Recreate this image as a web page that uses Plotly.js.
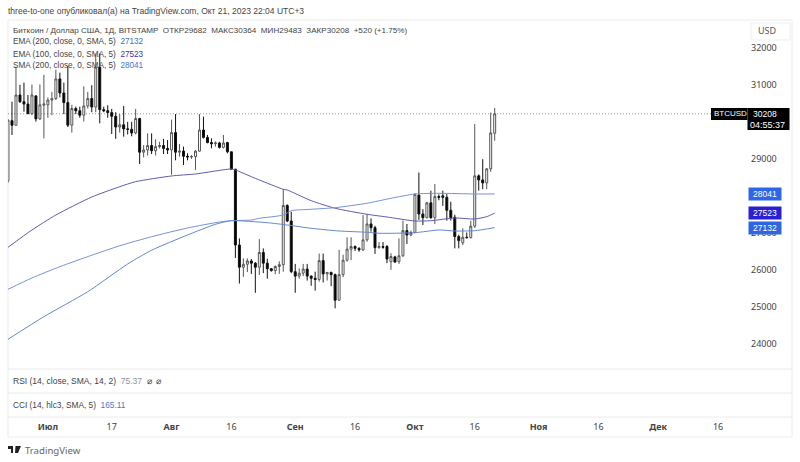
<!DOCTYPE html>
<html><head><meta charset="utf-8">
<script src="https://cdn.plot.ly/plotly-3.0.1.min.js"></script>
<style>html,body{margin:0;padding:0;background:#fff}#c{width:800px;height:462px}</style>
</head><body><div id="c"></div>
<script>
const days=["06-21","06-22","06-23","06-24","06-25","06-26","06-27","06-28","06-29","06-30",
"07-01","07-02","07-03","07-04","07-05","07-06","07-07","07-08","07-09","07-10","07-11","07-12","07-13","07-14","07-15","07-16","07-17","07-18","07-19","07-20","07-21","07-22","07-23","07-24","07-25","07-26","07-27","07-28","07-29","07-30","07-31",
"08-01","08-02","08-03","08-04","08-05","08-06","08-07","08-08","08-09","08-10","08-11","08-12","08-13","08-14","08-15","08-16","08-17","08-18","08-19","08-20","08-21","08-22","08-23","08-24","08-25","08-26","08-27","08-28","08-29","08-30","08-31",
"09-01","09-02","09-03","09-04","09-05","09-06","09-07","09-08","09-09","09-10","09-11","09-12","09-13","09-14","09-15","09-16","09-17","09-18","09-19","09-20","09-21","09-22","09-23","09-24","09-25","09-26","09-27","09-28","09-29","09-30",
"10-01","10-02","10-03","10-04","10-05","10-06","10-07","10-08","10-09","10-10","10-11","10-12","10-13","10-14","10-15","10-16","10-17","10-18","10-19","10-20","10-21"];
const opens=[28400,30022,29897,30716,30535,30470,30210,30690,30070,30440,
30450,30580,30620,31150,30770,30510,29900,30350,30290,30170,30420,30620,30390,31470,30320,30290,30240,30140,29850,29910,29800,29790,29690,30080,29170,29230,29350,29210,29320,29350,29270,
29230,29700,29170,29200,29060,29040,29050,29200,29770,29570,29430,29400,29420,29300,29430,29180,28710,26660,26060,26140,26230,26170,26060,26460,26170,26020,25970,26080,26130,27730,27310,
25940,25820,25900,26010,25820,25760,25730,26240,25880,25920,25860,25170,25860,26250,26550,26620,26570,26530,26800,27230,27130,26590,26620,26620,26210,26340,26210,26370,27050,26930,
27000,28010,27500,27400,27800,27400,27970,27990,27950,27600,27410,26890,26720,26870,26860,27170,28530,28420,28340,28720,29682];
const highs=[30050,30535,31480,30990,31050,30716,31000,30716,31000,31260,
30650,30800,31400,31320,31050,31500,30450,30400,30400,30950,30800,30980,31840,31840,30400,30440,30340,30250,30200,30420,29990,29990,30340,30100,29360,29680,29680,29520,29450,29530,29500,
30050,30200,29390,29320,29140,29090,29230,30200,30130,29635,29545,29460,29450,29635,29450,29185,28720,26840,26300,26300,26280,26200,26820,26570,26290,26040,26110,26220,28170,27760,27560,
26150,26030,26150,26150,25840,25940,26430,26430,25930,25940,25890,26530,26400,26870,26870,26650,26600,27470,27500,27380,27180,26740,26740,26660,26440,26370,26840,27320,27230,27050,
28060,28620,27630,27830,28130,28310,28030,28130,28040,27830,27480,26940,27110,27000,27320,29930,28570,28980,28740,30240,30364];
const lows=[28340,29635,29897,30500,30265,30230,30170,29995,30040,29545,
30100,30170,30580,30650,30200,29850,29700,30200,30100,30000,30350,30250,30250,29950,30250,30100,29660,29530,29700,29590,29650,29600,29650,28850,29030,29080,29120,29080,29270,29120,29120,
28560,28950,29050,28824,28950,28990,28690,29180,29540,29410,29275,29320,29270,29270,29140,28690,26310,25620,25800,25930,25880,25370,25850,25900,25750,25940,25870,25880,25940,27280,25900,
25370,25750,25820,25700,25560,25430,25670,25650,25700,25550,24950,25150,25790,26210,26250,26500,26480,26500,26750,27020,26420,26560,26560,26170,25990,26180,26150,26340,26690,26900,
26980,27340,27200,27380,27370,27230,27870,27720,27320,27320,26570,26570,26660,26840,26840,27120,28130,28170,28170,28640,29483];
const closes=[30040,29897,30716,30535,30470,30210,30716,30070,30450,30470,
30580,30620,31150,30770,30510,29900,30350,30290,30170,30420,30620,30390,31470,30320,30290,30240,30140,29850,29910,29800,29790,29690,30080,29170,29230,29350,29210,29320,29350,29270,29230,
29700,29170,29200,29060,29040,29050,29200,29770,29570,29430,29400,29420,29300,29420,29180,28710,26660,26060,26140,26230,26170,26060,26460,26170,26020,25970,26080,26130,27730,27310,25940,
25820,25900,26010,25820,25760,25730,26240,25880,25920,25860,25170,25860,26250,26550,26620,26570,26530,26800,27230,27130,26590,26620,26600,26280,26350,26200,26370,27050,26930,27000,
28030,27500,27400,27800,27400,27970,27950,27950,27600,27400,26890,26780,26870,26860,27170,28530,28420,28340,28720,29690,30208];

const ema100Days=["06-21","06-27","07-03","07-12","07-19","07-23","08-01","08-07","08-16","08-17","08-21","08-23","08-29","08-30","09-05","09-11","09-19","09-24","10-01","10-05","10-11","10-16","10-19","10-21"];
const ema100=[26599,27067,27472,27959,28237,28373,28527,28581,28716,28689,28508,28419,28167,28148,27859,27654,27491,27418,27310,27318,27391,27364,27427,27523];
const sma200Days=["06-21","06-27","07-04","07-12","07-19","07-27","08-05","08-13","08-16","08-21","08-23","08-29","08-31","09-05","09-11","09-19","09-25","10-01","10-07","10-16","10-21"];
const sma200=[25464,25770,26075,26385,26640,26886,27121,27283,27318,27337,27383,27472,27589,27627,27670,27789,27924,28040,28059,28040,28041];
const ema200Days=["06-21","06-30","07-11","07-21","07-27","08-05","08-12","08-16","08-25","08-30","09-05","09-12","09-19","09-22","10-01","10-07","10-11","10-16","10-21"];
const ema200=[24113,24724,25399,26148,26520,26932,27221,27318,27264,27202,27113,27040,27005,26978,26994,27067,27040,27048,27132];

const priceTicks=[24000,25000,26000,27000,29000,31000,32000];
const timeTickDates=["07-01","07-17","08-01","08-16","09-01","09-16","10-01","10-16","11-01","11-16","12-01","12-16"];
const timeTickLabels=["<b>Июл</b>","17","<b>Авг</b>","16","<b>Сен</b>","16","<b>Окт</b>","16","<b>Ноя</b>","16","<b>Дек</b>","16"];
const lastPrice=30208, lastSma200=28041, lastEma100=27523, lastEma200=27132;

const FONT='"Noto Sans", sans-serif';
const NARROW='"Liberation Sans", sans-serif';
const d=a=>a.map(s=>"2023-"+s);
const L=8,R=750,T=20,B=417;
const px=x=>(x-L)/(R-L), py=y=>(B-y)/(B-T);
const ann=(x,y,text,o)=>Object.assign({xref:'paper',yref:'paper',x:px(x),y:py(y),text,showarrow:false,xanchor:'left',yanchor:'middle',align:'left',borderpad:0,font:{family:NARROW,size:8.5,color:'#444'}},o||{});
const line=(x0,y0,x1,y1,c)=>({type:'line',xref:'paper',yref:'paper',x0:px(x0),y0:py(y0),x1:px(x1),y1:py(y1),line:{color:c||'#ececec',width:1},layer:'below'});
const tag=(x,w,val,bg)=>({xref:'paper',yref:'y',x:px(x),y:val,text:String(val),showarrow:false,xanchor:'left',yanchor:'middle',width:w,height:12,bgcolor:bg,borderpad:0,align:'center',font:{family:NARROW,size:8.5,color:'#fff'}});
const legendFont={family:NARROW,size:8.2,color:'#444'};

const traces=[
 {type:'candlestick',x:d(days),open:opens,high:highs,low:lows,close:closes,
  increasing:{line:{color:'#555',width:1},fillcolor:'#ffffff'},
  decreasing:{line:{color:'#111',width:1},fillcolor:'#000000'},whiskerwidth:0,hoverinfo:'skip',showlegend:false},
 {type:'scatter',mode:'lines',x:d(ema100Days),y:ema100,line:{color:'#5c5cb0',width:1,shape:'spline',smoothing:0.6},hoverinfo:'skip',showlegend:false},
 {type:'scatter',mode:'lines',x:d(sma200Days),y:sma200,line:{color:'#7493d4',width:1,shape:'spline',smoothing:0.6},hoverinfo:'skip',showlegend:false},
 {type:'scatter',mode:'lines',x:d(ema200Days),y:ema200,line:{color:'#6487cc',width:1,shape:'spline',smoothing:0.6},hoverinfo:'skip',showlegend:false}
];
const layout={
 width:800,height:462,margin:{l:L,r:800-R,t:T,b:462-B,pad:0},paper_bgcolor:'#fff',plot_bgcolor:'#fff',showlegend:false,
 xaxis:{type:'date',range:['2023-06-21','2023-12-24'],rangeslider:{visible:false},showgrid:false,zeroline:false,showline:false,ticks:'',ticklabelstandoff:3,
   tickmode:'array',tickvals:d(timeTickDates),ticktext:timeTickLabels,tickfont:{family:FONT,size:9,color:'#444'}},
 yaxis:{side:'right',range:[22012,32743],showgrid:false,zeroline:false,showline:false,ticks:'',
   tickmode:'array',tickvals:priceTicks,ticktext:priceTicks.map(String),tickfont:{family:FONT,size:9,color:'#444'}},
 shapes:[
  line(8,20,792,20),line(8,20,8,437),line(792,20,792,437),line(8,437,792,437),
  line(8,369,792,369),line(8,393,792,393),line(8,417,792,417),
  {type:'line',xref:'paper',yref:'y',x0:0,x1:px(711),y0:lastPrice,y1:lastPrice,line:{color:'#999',width:1,dash:'1px,2px'},layer:'below'},
  {type:'rect',xref:'paper',yref:'paper',x0:px(751),x1:px(790),y0:py(40),y1:py(23),line:{color:'#eeeeee',width:1},fillcolor:'#fff',layer:'below'},
  {type:'rect',xref:'paper',yref:'paper',x0:px(711),x1:px(747.5),y0:py(120),y1:py(108),line:{width:0},fillcolor:'#000',layer:'above'},
  {type:'rect',xref:'paper',yref:'paper',x0:px(747.5),x1:px(789.5),y0:py(130),y1:py(108),line:{width:0},fillcolor:'#000',layer:'above'},
  {type:'path',xref:'paper',yref:'paper',path:`M${px(8)},${py(446)} L${px(13)},${py(446)} L${px(13)},${py(453)} L${px(11)},${py(453)} L${px(11)},${py(449)} L${px(8)},${py(449)} Z M${px(15.5)},${py(446)} L${px(21)},${py(446)} L${px(18)},${py(453)} L${px(15)},${py(453)} Z`,fillcolor:'#222',line:{width:0},layer:'above'}
 ],
 annotations:[
  ann(7,11,'three-to-one опубликовал(а) на TradingView.com, Окт 21, 2023 22:04 UTC+3',{font:{family:NARROW,size:8.5,color:'#444'}}),
  ann(12,30,'Биткоин / Доллар США, 1Д, BITSTAMP  ОТКР29682  МАКС30364  МИН29483  ЗАКР30208  +520 (+1.75%)',{font:{family:NARROW,size:8.1,color:'#444'}}),
  ann(12,42,'EMA (200, close, 0, SMA, 5)  <span style="color:#3f6fb5">27132</span>',{font:legendFont}),
  ann(12,54,'EMA (100, close, 0, SMA, 5)  <span style="color:#3d35a5">27523</span>',{font:legendFont}),
  ann(12,66,'SMA (200, close, 0, SMA, 5)  <span style="color:#3f76d2">28041</span>',{font:legendFont}),
  ann(12,381,'RSI (14, close, SMA, 14, 2)  <span style="color:#8a94a0">75.37</span>  ⌀  ⌀'),
  ann(12,405,'CCI (14, hlc3, SMA, 5)  <span style="color:#4a78c0">165.11</span>',{font:{family:NARROW,size:8.3,color:'#444'}}),
  ann(757,31,'USD',{font:{family:FONT,size:9,color:'#555'}}),
  ann(24,450,'TradingView',{font:{family:FONT,size:9.6,color:'#666'}}),
  ann(713,114,'BTCUSD',{font:{family:NARROW,size:8,color:'#fff'}}),
  ann(752,114,String(lastPrice),{font:{family:NARROW,size:8.5,color:'#fff'}}),
  ann(749,124.5,'04:55:37',{font:{family:NARROW,size:9,color:'#fff'}}),
  tag(747.5,32,lastSma200,'#2f66e8'),
  tag(747.5,32,lastEma100,'#2a1fd2'),
  tag(747.5,32,lastEma200,'#2f66e0')
 ]
};
Plotly.newPlot('c',traces,layout,{displayModeBar:false,staticPlot:true});
</script></body></html>
